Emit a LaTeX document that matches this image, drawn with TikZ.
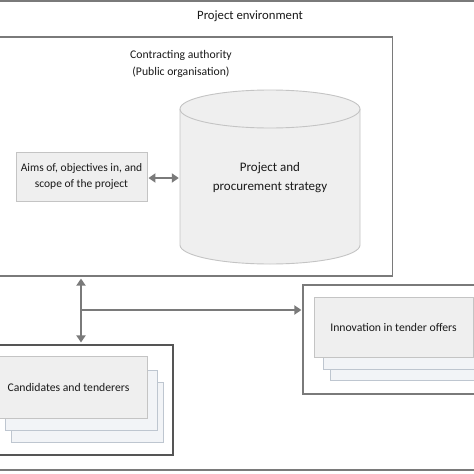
\documentclass[tikz,border=0pt]{standalone}
\usepackage{fontspec}
\setmainfont{Carlito}
\usetikzlibrary{arrows.meta}
\definecolor{linegray}{HTML}{7A7A7A}
\definecolor{darkline}{HTML}{555555}
\definecolor{cardfill}{HTML}{EFEFEF}
\definecolor{cardline}{HTML}{C4C4C4}
\definecolor{backfill}{HTML}{F2F4F7}
\definecolor{backline}{HTML}{BEC6D0}
\definecolor{txt}{HTML}{1A1A1A}
\tikzset{
  frame/.style={draw=linegray, line width=1.2pt, fill=none},
  card/.style={draw=cardline, line width=0.9pt, fill=cardfill, text=txt, align=center, inner sep=0pt},
  backcard/.style={draw=backline, line width=0.9pt, fill=backfill, inner sep=0pt},
  lbl/.style={text=txt, align=center, inner sep=0pt, font=\fontsize{11.7pt}{17pt}\selectfont},
  conn/.style={draw=linegray, line width=2.6pt, {Triangle[length=7pt,width=9pt]}-{Triangle[length=7pt,width=9pt]}},
  conn1/.style={draw=linegray, line width=2.6pt, -{Triangle[length=7pt,width=9pt]}},
}
\begin{document}
\begin{tikzpicture}[x=1pt,y=-1pt]
\useasboundingbox[fill=white] (0,0) rectangle (474,474);
\clip (0,0) rectangle (474,474);
% outer project environment frame
\draw[draw=linegray, line width=2.6pt] (-10,1) -- (484,1);
\draw[draw=linegray, line width=1.4pt] (-10,470) -- (484,470);
\node[lbl, font=\fontsize{12.7pt}{15pt}\selectfont] (envlbl) at (250,16) {Project environment};
% contracting authority
\node[frame, draw, minimum width=402pt, minimum height=239pt, inner sep=0pt] (ca) at (191.5,156.5) {};
\node[lbl] (calbl) at (181,63.5) {Contracting authority\\(Public organisation)};
% cylinder
\node[minimum width=180pt, minimum height=174pt, inner sep=0pt] (cyl) at (270,177) {};
\path[draw=cardline, line width=0.9pt, fill=cardfill]
  (180,109) -- (180,245) arc[start angle=180, end angle=360, x radius=90pt, y radius=19pt]
  -- (360,109) arc[start angle=0, end angle=180, x radius=90pt, y radius=19pt] -- cycle;
\draw[draw=cardline, line width=0.9pt] (180,109) arc[start angle=180, end angle=360, x radius=90pt, y radius=19pt];
\node[lbl, font=\fontsize{13pt}{19pt}\selectfont] (cyllbl) at (270,177.5) {Project and\\procurement strategy};
% aims box
\node[card, minimum width=131pt, minimum height=49pt, font=\fontsize{11.5pt}{16pt}\selectfont] (aims) at (81.5,176.5) {Aims of, objectives in, and\\scope of the project};
\draw[conn, shorten >=1pt, shorten <=1pt] (aims.east |- 0,178) -- (cyl.west |- 0,178);
% candidates box
\node[draw=darkline, line width=1.1pt, minimum width=193pt, minimum height=110pt, inner sep=0pt] (cand) at (76.5,400) {};
\node[backcard, minimum width=152pt, minimum height=60pt] (cand3) at (87,412) {};
\node[backcard, minimum width=152pt, minimum height=60pt] (cand2) at (81,400) {};
\node[card, minimum width=157pt, minimum height=62pt, font=\fontsize{11.7pt}{14pt}\selectfont] (cand1) at (68.5,387) {Candidates and tenderers};
% innovation box
\node[frame, draw, minimum width=190pt, minimum height=109pt, inner sep=0pt] (innov) at (398,339.5) {};
\node[backcard, minimum width=160pt, minimum height=60pt] (inn3) at (410,350) {};
\node[backcard, minimum width=160pt, minimum height=60pt] (inn2) at (403,339) {};
\node[card, minimum width=159pt, minimum height=60pt, font=\fontsize{11.7pt}{14pt}\selectfont] (inn1) at (393.5,327) {Innovation in tender offers};
% connectors
\coordinate (j) at (81,310);
\draw[conn, shorten >=2pt, shorten <=2pt] (ca.south -| j) -- (cand.north -| j);
\draw[conn1, shorten >=1pt] (j) -- (innov.west |- j);
\end{tikzpicture}
\end{document}
